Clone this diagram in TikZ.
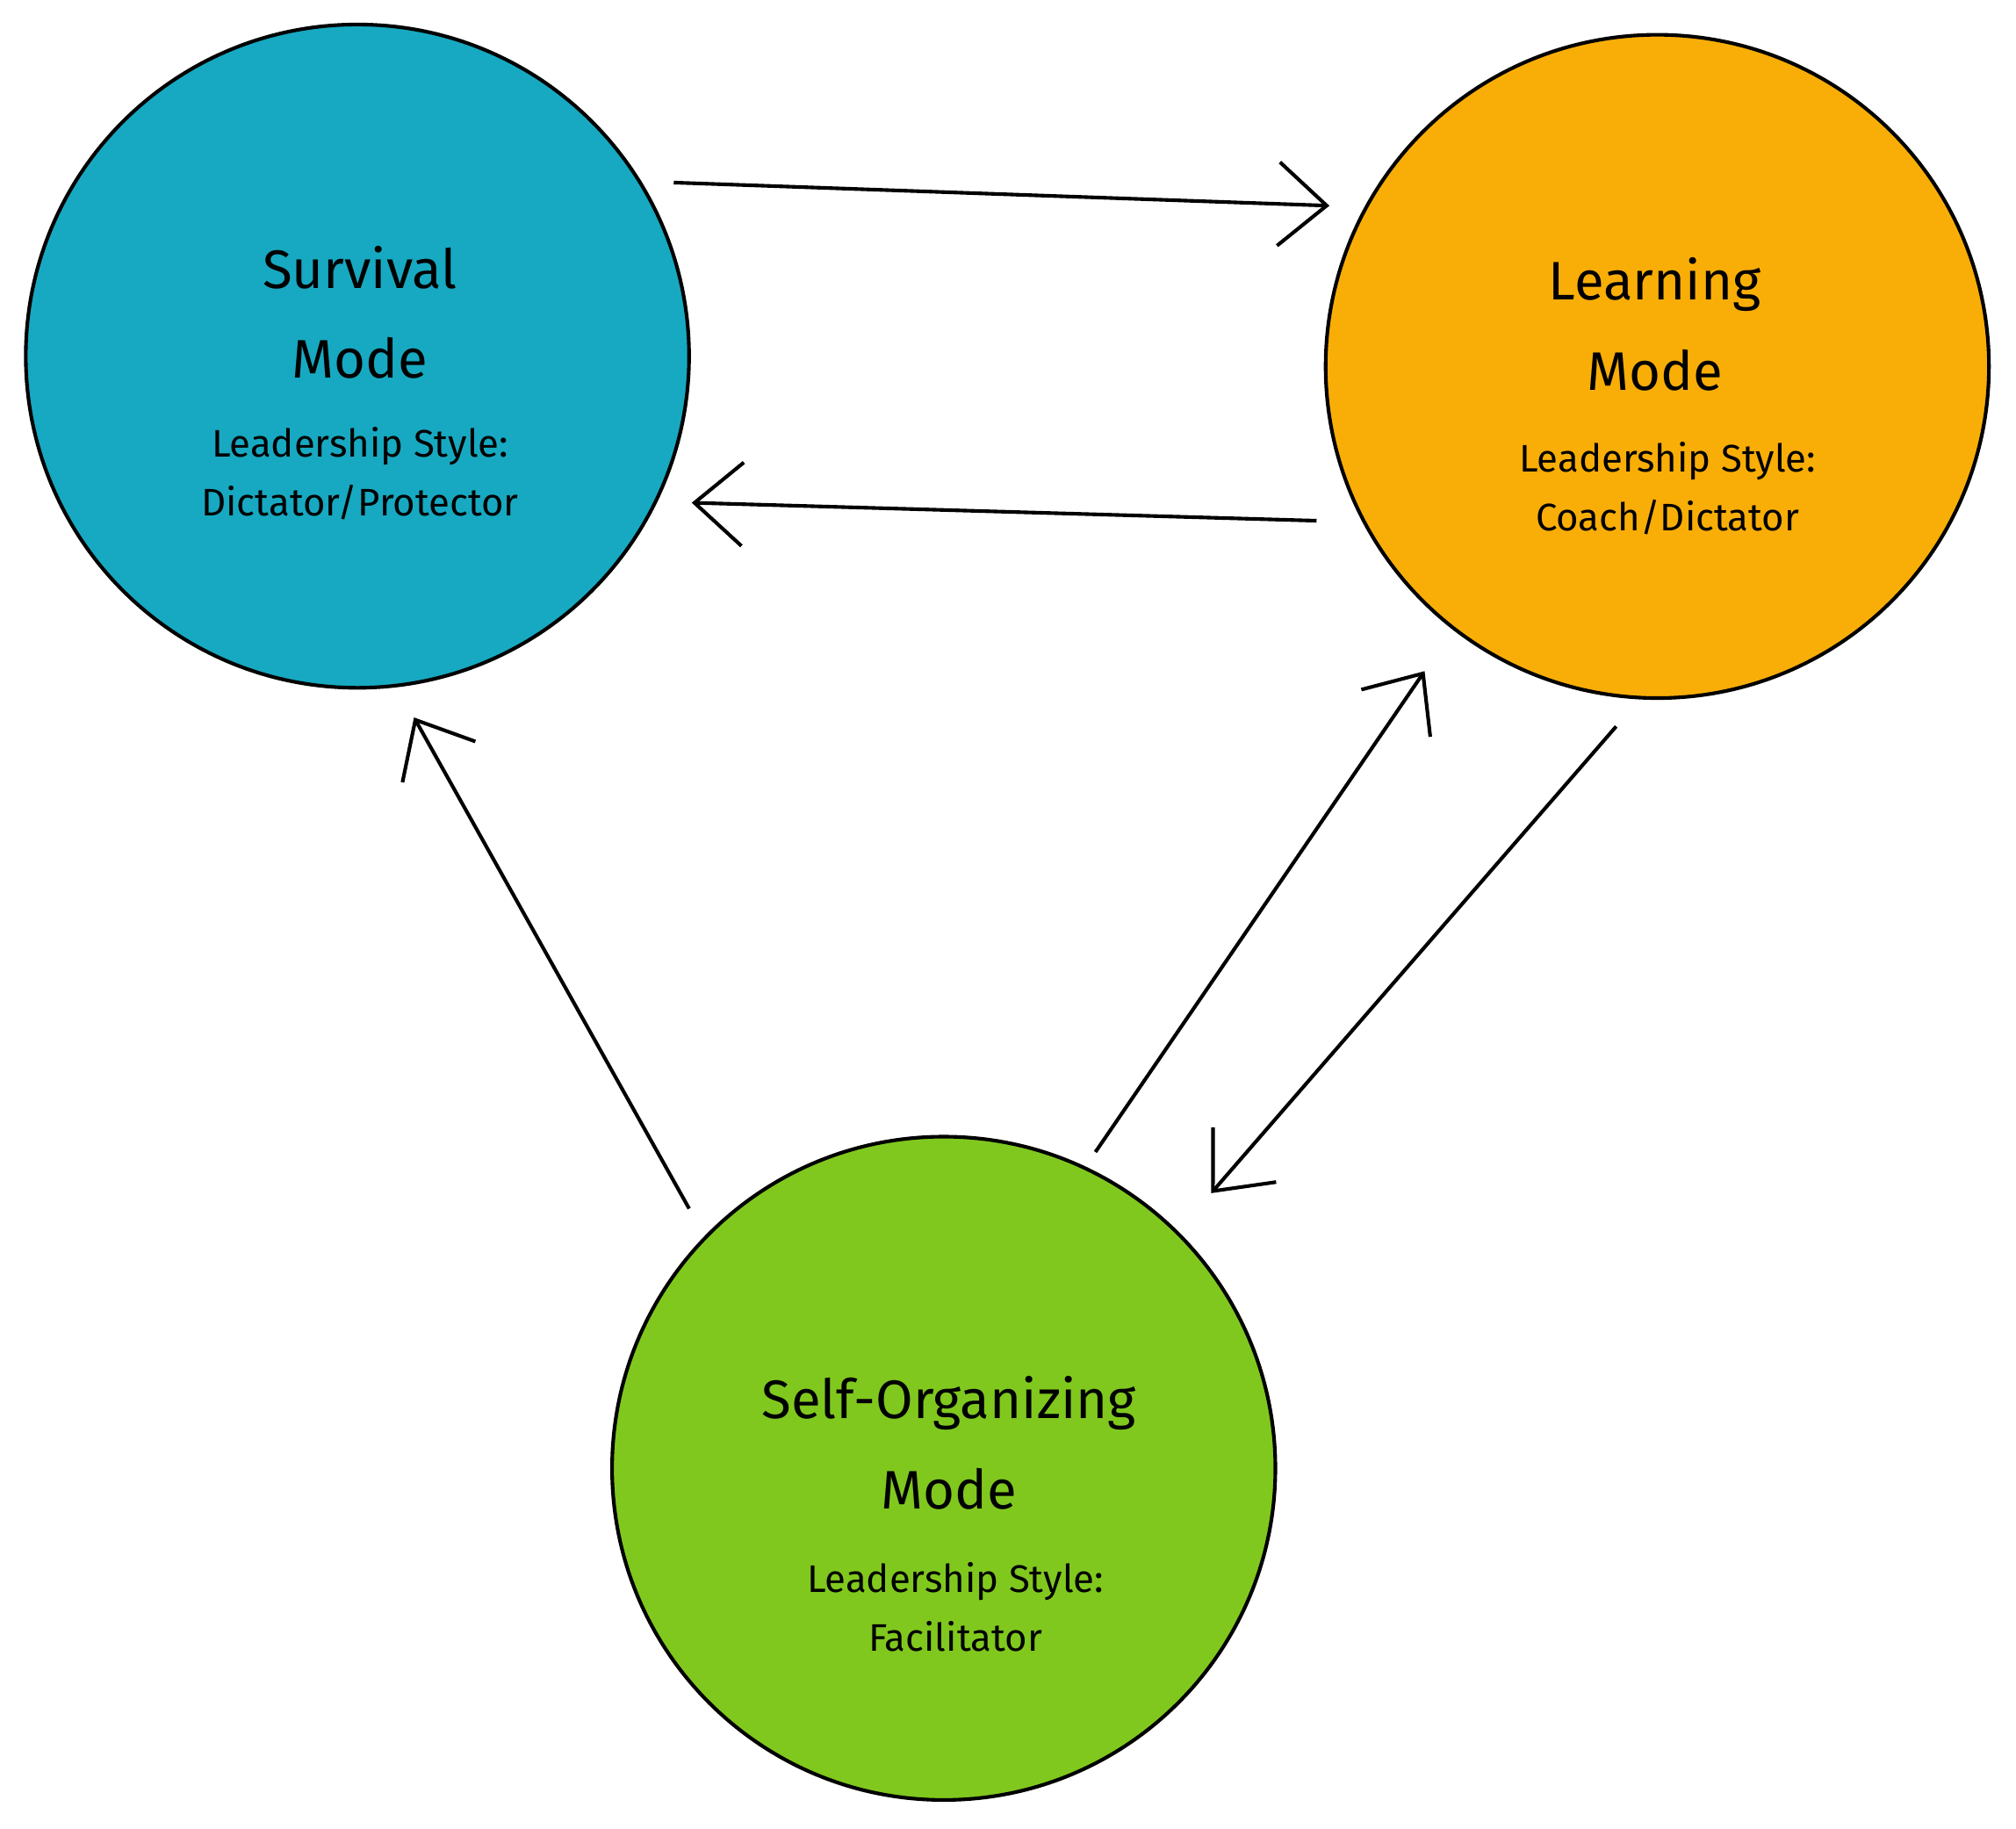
\documentclass[tikz,border=0pt]{standalone}
\usepackage{fontspec}
\setmainfont{Fira Sans}
\usetikzlibrary{arrows.meta}
\definecolor{cblue}{HTML}{17A9C1}
\definecolor{corange}{HTML}{F9AE07}
\definecolor{cgreen}{HTML}{80C81E}
\begin{document}
\begin{tikzpicture}[x=0.02cm,y=-0.02cm,
  mode/.style={circle,draw=black,line width=1.6pt,minimum size=10.32cm,inner sep=0pt,align=center},
  ttl/.style={font=\fontsize{24}{40}\selectfont},
  sub/.style={font=\fontsize{17}{26}\selectfont},
  arr/.style={line width=1.6pt,-{Straight Barb[length=0.75cm,width=1.3cm,line width=1.6pt]}}]
\useasboundingbox (0,0) rectangle (1568,1422);
\node[mode,fill=cblue] (s) at (278,277) {};
\node[mode,fill=corange] (l) at (1289,285) {};
\node[mode,fill=cgreen] (g) at (734,1142) {};
\node[ttl,align=center] (st) at (280,243) {Survival\\Mode};
\node[sub,align=center] (ss) at (280,368) {Leadership Style:\\Dictator/Protector};
\node[ttl,align=center] (lt) at (1287,252) {Learning\\Mode};
\node[sub,align=center] (ls) at (1297,380) {Leadership Style:\\Coach/Dictator};
\node[ttl,align=center] (gt) at (738,1122) {Self-Organizing\\Mode};
\node[sub,align=center] (gs) at (743,1250) {Leadership Style:\\Facilitator};
\coordinate (a1) at (524,142); \coordinate (b1) at (1034,160);
\coordinate (a2) at (1024,405); \coordinate (b2) at (538,391);
\coordinate (a3) at (536,940); \coordinate (b3) at (322,558);
\coordinate (a4) at (852,896); \coordinate (b4) at (1108,522);
\coordinate (a5) at (1257,565); \coordinate (b5) at (942,928);
\draw[arr] (a1) -- (b1);
\draw[arr] (a2) -- (b2);
\draw[arr] (a3) -- (b3);
\draw[arr] (a4) -- (b4);
\draw[arr] (a5) -- (b5);
\end{tikzpicture}
\end{document}
